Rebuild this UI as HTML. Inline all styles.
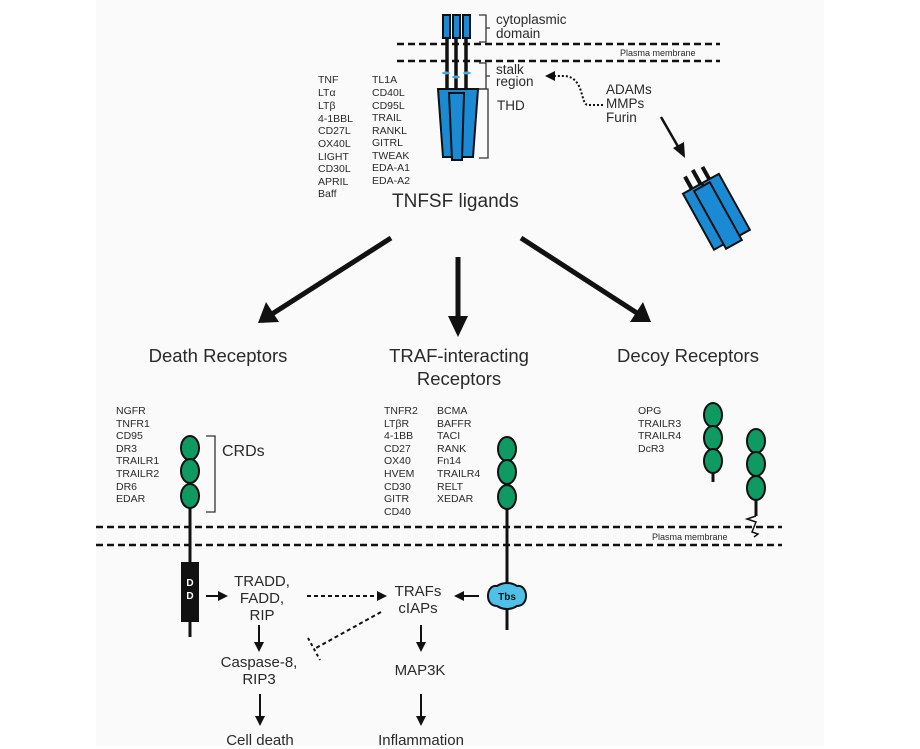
<!DOCTYPE html>
<html><head><meta charset="utf-8"><style>
html,body{margin:0;padding:0;background:#fff}
svg{display:block}
text{font-family:"Liberation Sans",Arial,sans-serif;fill:#2a2a2a}
.s{font-size:10.5px}
.m{font-size:13.5px}
.h{font-size:18.5px}
</style></head><body>
<svg width="920" height="749" viewBox="0 0 920 749" xmlns="http://www.w3.org/2000/svg">
<defs>
<marker id="ah" markerWidth="10" markerHeight="10" refX="8" refY="5" orient="auto" markerUnits="userSpaceOnUse"><path d="M0,0 L10,5 L0,10 Z" fill="#111"/></marker>
</defs>
<rect x="96" y="0" width="728" height="746" fill="#fafafa"/>

<g stroke="#111" stroke-width="2.5" stroke-dasharray="7,4">
<line x1="397" y1="44" x2="720" y2="44"/><line x1="397" y1="61" x2="720" y2="61"/>
</g>
<text x="620" y="56" style="font-size:9px">Plasma membrane</text>

<g stroke="#111" stroke-width="3.5">
<line x1="447" y1="37" x2="447" y2="92"/><line x1="456" y1="37" x2="456" y2="92"/><line x1="466" y1="37" x2="466" y2="92"/>
</g>
<g fill="#1a8ad4" stroke="#111" stroke-width="2">
<rect x="443" y="15" width="7" height="23"/><rect x="453" y="15" width="7" height="23"/><rect x="463" y="15" width="7" height="23"/>
</g>
<g fill="#4aa8e0"><ellipse cx="446" cy="73" rx="4" ry="1.5"/><ellipse cx="456" cy="77" rx="4" ry="1.5"/><ellipse cx="467" cy="73" rx="4" ry="1.5"/></g>
<g fill="#1a8ad4" stroke="#111" stroke-width="2">
<path d="M438,89 L478,89 L473,157 L443,157 Z"/>
<path d="M449,93 L464,93 L462,160 L452,160 Z"/>
</g>
<g fill="none" stroke="#333" stroke-width="1.3">
<path d="M479,15 H486 V42 H479 M486,28 H490"/>
<path d="M479,63 H486 V89 H479 M486,76 H490"/>
<path d="M479,89 H488 V158 H479"/>
</g>
<text class="m" x="496" y="24">cytoplasmic</text>
<text class="m" x="496" y="38">domain</text>
<text class="m" x="496" y="74">stalk</text>
<text class="m" x="496" y="86">region</text>
<text class="m" x="497" y="110">THD</text>

<g class="s">
<text x="318" y="83">TNF</text><text x="318" y="96">LTα</text><text x="318" y="109">LTβ</text><text x="318" y="122">4-1BBL</text><text x="318" y="134">CD27L</text><text x="318" y="147">OX40L</text><text x="318" y="160">LIGHT</text><text x="318" y="172">CD30L</text><text x="318" y="185">APRIL</text><text x="318" y="197">Baff</text>
<text x="372" y="83">TL1A</text><text x="372" y="96">CD40L</text><text x="372" y="109">CD95L</text><text x="372" y="121">TRAIL</text><text x="372" y="134">RANKL</text><text x="372" y="146">GITRL</text><text x="372" y="159">TWEAK</text><text x="372" y="171">EDA-A1</text><text x="372" y="184">EDA-A2</text>
</g>
<text x="392" y="207" style="font-size:19px">TNFSF ligands</text>

<text class="m" x="606" y="94">ADAMs</text>
<text class="m" x="606" y="108">MMPs</text>
<text class="m" x="606" y="122">Furin</text>
<path d="M603,105 H588 C580,105 585,78 565,76 L553,76" fill="none" stroke="#111" stroke-width="2" stroke-dasharray="2,2"/>
<path d="M545,76 L555,71 L555,81 Z" fill="#111"/>
<line x1="661" y1="117" x2="680" y2="150" stroke="#111" stroke-width="2.5"/>
<path d="M685,158 L673,148 L684,142 Z" fill="#111"/>

<g transform="translate(716,212) rotate(-29)">
<g stroke="#111" stroke-width="4"><line x1="-10" y1="-30" x2="-10" y2="-46"/><line x1="0" y1="-30" x2="0" y2="-48"/><line x1="10" y1="-30" x2="10" y2="-46"/></g>
<g fill="#1a8ad4" stroke="#111" stroke-width="2">
<rect x="-20" y="-32" width="21" height="64"/><rect x="2" y="-32" width="19" height="64"/><rect x="-9" y="-29" width="18" height="66"/>
</g>
</g>

<g stroke="#111" stroke-width="5" fill="none">
<line x1="391" y1="238" x2="272" y2="314"/>
<line x1="458" y1="257" x2="458" y2="318"/>
<line x1="521" y1="238" x2="637" y2="313"/>
</g>
<path d="M258,323 L266,302 L279,322 Z" fill="#111"/>
<path d="M448,316 L468,316 L458,337 Z" fill="#111"/>
<path d="M651,322 L630,322 L643,302 Z" fill="#111"/>

<text class="h" x="218" y="362" text-anchor="middle">Death Receptors</text>
<text class="h" x="459" y="362" text-anchor="middle">TRAF-interacting</text>
<text class="h" x="459" y="385" text-anchor="middle">Receptors</text>
<text class="h" x="688" y="362" text-anchor="middle">Decoy Receptors</text>

<g stroke="#111" stroke-width="2.5" stroke-dasharray="7,4">
<line x1="96" y1="527" x2="782" y2="527"/><line x1="96" y1="545" x2="782" y2="545"/>
</g>
<text x="652" y="540" style="font-size:9px">Plasma membrane</text>

<g class="s">
<text x="116" y="414">NGFR</text><text x="116" y="427">TNFR1</text><text x="116" y="439">CD95</text><text x="116" y="452">DR3</text><text x="116" y="464">TRAILR1</text><text x="116" y="477">TRAILR2</text><text x="116" y="490">DR6</text><text x="116" y="502">EDAR</text>
</g>
<line x1="190" y1="500" x2="190" y2="637" stroke="#111" stroke-width="3"/>
<g fill="#0f9a63" stroke="#111" stroke-width="2">
<ellipse cx="190" cy="448" rx="9" ry="12"/><ellipse cx="190" cy="471" rx="9" ry="12"/><ellipse cx="190" cy="496" rx="9" ry="12"/>
</g>
<path d="M206,436 H215 V512 H206" fill="none" stroke="#333" stroke-width="1.3"/>
<text x="222" y="456" style="font-size:16px">CRDs</text>
<rect x="181" y="562" width="18" height="60" fill="#111"/>
<text x="190" y="586" text-anchor="middle" style="font-size:10px;font-weight:bold;fill:#fff">D</text>
<text x="190" y="599" text-anchor="middle" style="font-size:10px;font-weight:bold;fill:#fff">D</text>

<g class="s">
<text x="384" y="414">TNFR2</text><text x="384" y="427">LTβR</text><text x="384" y="439">4-1BB</text><text x="384" y="452">CD27</text><text x="384" y="464">OX40</text><text x="384" y="477">HVEM</text><text x="384" y="490">CD30</text><text x="384" y="502">GITR</text><text x="384" y="515">CD40</text>
<text x="437" y="414">BCMA</text><text x="437" y="427">BAFFR</text><text x="437" y="439">TACI</text><text x="437" y="452">RANK</text><text x="437" y="464">Fn14</text><text x="437" y="477">TRAILR4</text><text x="437" y="490">RELT</text><text x="437" y="502">XEDAR</text>
</g>
<line x1="507" y1="500" x2="507" y2="630" stroke="#111" stroke-width="3"/>
<g fill="#0f9a63" stroke="#111" stroke-width="2">
<ellipse cx="507" cy="449" rx="9" ry="12"/><ellipse cx="507" cy="472" rx="9" ry="12"/><ellipse cx="507" cy="497" rx="9" ry="12"/>
</g>
<path d="M497,586 C503,582 511,582 517,586 C528,584 530,606 517,606 C511,610 503,610 497,606 C484,606 486,584 497,586 Z" fill="#4fc1e9" stroke="#111" stroke-width="2"/>
<text x="507" y="600" text-anchor="middle" style="font-size:10px;font-weight:bold;fill:#111">Tbs</text>

<g class="s">
<text x="638" y="414">OPG</text><text x="638" y="427">TRAILR3</text><text x="638" y="439">TRAILR4</text><text x="638" y="452">DcR3</text>
</g>
<line x1="713" y1="470" x2="713" y2="482" stroke="#111" stroke-width="3"/>
<g fill="#0f9a63" stroke="#111" stroke-width="2">
<ellipse cx="713" cy="415" rx="9" ry="12"/><ellipse cx="713" cy="438" rx="9" ry="12"/><ellipse cx="713" cy="461" rx="9" ry="12"/>
</g>
<line x1="756" y1="495" x2="756" y2="516" stroke="#111" stroke-width="3"/>
<path d="M756,516 L747,519 L756,522 L752,532 L758,534 L754,537" fill="none" stroke="#111" stroke-width="1.5"/>
<g fill="#0f9a63" stroke="#111" stroke-width="2">
<ellipse cx="756" cy="441" rx="9" ry="12"/><ellipse cx="756" cy="464" rx="9" ry="12"/><ellipse cx="756" cy="488" rx="9" ry="12"/>
</g>

<g text-anchor="middle" style="font-size:15px">
<text x="262" y="586">TRADD,</text><text x="262" y="603">FADD,</text><text x="262" y="620">RIP</text>
<text x="418" y="596">TRAFs</text><text x="418" y="613">cIAPs</text>
<text x="259" y="667">Caspase-8,</text><text x="259" y="684">RIP3</text>
<text x="420" y="675">MAP3K</text>
<text x="260" y="745">Cell death</text><text x="421" y="745">Inflammation</text>
</g>
<g stroke="#111" stroke-width="2" fill="none">
<line x1="206" y1="596" x2="226" y2="596" marker-end="url(#ah)"/>
<line x1="307" y1="596" x2="385" y2="596" stroke-dasharray="4,3" marker-end="url(#ah)"/>
<line x1="479" y1="596" x2="456" y2="596" marker-end="url(#ah)"/>
<line x1="259" y1="625" x2="259" y2="650" marker-end="url(#ah)"/>
<line x1="421" y1="625" x2="421" y2="650" marker-end="url(#ah)"/>
<line x1="260" y1="694" x2="260" y2="724" marker-end="url(#ah)"/>
<line x1="421" y1="694" x2="421" y2="724" marker-end="url(#ah)"/>
<line x1="381" y1="612" x2="316" y2="648" stroke-dasharray="4,3"/>
<line x1="308" y1="638" x2="320" y2="660" stroke-dasharray="3,3"/>
</g>
</svg>
</body></html>
